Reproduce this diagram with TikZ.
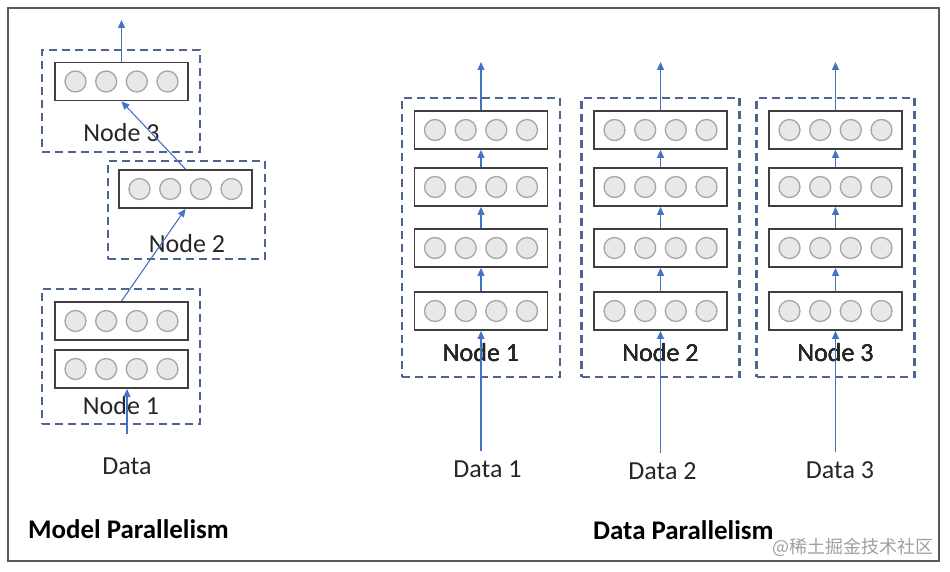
\documentclass[tikz,border=0pt]{standalone}
\usepackage{fontspec}
\setmainfont{Carlito}
\newfontfamily\cjkfont{Noto Sans CJK SC}
\usepackage{tikz}
\usetikzlibrary{arrows.meta}
\pgfdeclarelayer{nodelayer}
\pgfdeclarelayer{edgelayer}
\pgfsetlayers{nodelayer,edgelayer,main}
\definecolor{groupblue}{HTML}{4F6491}
\definecolor{flowblue}{HTML}{4472C4}
\definecolor{layergray}{HTML}{404040}
\definecolor{unitgray}{HTML}{A6A6A6}
\definecolor{unitfill}{HTML}{E8E8E8}
\definecolor{textgray}{HTML}{262626}
\definecolor{framegray}{HTML}{5A5A5A}
\definecolor{markgray}{HTML}{A0A0A0}
\tikzset{
    none/.style = {inner sep=0pt},
    tag/.style = {inner sep=0pt, anchor=base, text=textgray, font=\fontsize{26}{30}\selectfont},
    heading/.style = {inner sep=0pt, anchor=base west, text=black, font=\fontsize{26.9}{32}\selectfont\bfseries},
    layer/.style = {draw=layergray, line width=1.8pt, minimum width=133pt, minimum height=38pt, inner sep=0pt},
    unit/.style = {circle, draw=unitgray, fill=unitfill, line width=1.3pt, minimum size=21pt, inner sep=0pt},
    group/.style = {draw=groupblue, line width=2.2pt, dash pattern=on 8pt off 5pt},
    flow/.style = {draw=flowblue, line width=1.1pt, -{Triangle[length=8pt,width=7pt]}},
    frame/.style = {draw=framegray, line width=1.5pt}
}
% one layer: a box with four units
\newcommand{\layerbox}[3]{%
    \node [layer] (#1) at (#2, #3) {};
    \foreach \dx [count=\i] in {-46,-15.3,15.3,46}
        \node [unit] (#1-\i) at ([xshift=\dx pt]#1.center) {};
}

\begin{document}
\begin{tikzpicture}[x=1pt, y=-1pt]
    \useasboundingbox (0, 0) rectangle (950, 572);
    \begin{pgfonlayer}{nodelayer}
        \draw [frame] (8, 8) rectangle (939, 561);
        % model parallelism
        \node [group, minimum width=158pt, minimum height=102pt] (g3) at (121, 101) {};
        \node [group, minimum width=157pt, minimum height=98pt] (g2) at (186.5, 210) {};
        \node [group, minimum width=158pt, minimum height=135pt] (g1) at (121, 356.5) {};
        \layerbox{m3}{121.5}{81.5}
        \layerbox{m2}{185.5}{189}
        \layerbox{m1b}{121.5}{321}
        \layerbox{m1a}{121.5}{369}
        \node [tag] (n3) at (121.5, 142) {Node 3};
        \node [tag] (n2) at (187, 252) {Node 2};
        \node [tag] (n1) at (121, 414) {Node 1};
        \node [tag] (data) at (127, 474) {Data};
        \coordinate (mout) at (121.5, 20);
        % data parallelism
        \foreach \c/\x/\tx/\ty in {1/481/487.5/477, 2/660.5/662.5/479, 3/835.5/840/478} {
            \node [group, minimum width=158pt, minimum height=279pt] (h\c) at (\x, 237.5) {};
            \foreach \r/\y in {a/311, b/248, c/187, d/130}
                \layerbox{d\c-\r}{\x}{\y}
            \node [tag] (k\c) at (\x, 361) {Node \c};
            \node [tag] (dt\c) at (\tx, \ty) {Data \c};
            \coordinate (dout\c) at (\x, 62);
        }
        \node [heading] (mtitle) at (28, 538) {Model Parallelism};
        \node [heading] (dtitle) at (593, 539) {Data Parallelism};
        \node [none, anchor=base west, text=markgray, font=\cjkfont\fontsize{18}{22}\selectfont] (mark) at (772, 553) {@稀土掘金技术社区};
    \end{pgfonlayer}
    \begin{pgfonlayer}{edgelayer}
        \draw [flow] ([yshift=23pt]data.north -| data) -- (data |- m1a.south);
        \draw [flow] (m1b.north) -- (m2.south);
        \draw [flow] (m2.north) -- (m3.south);
        \draw [flow] (m3.north) -- (mout);
        \foreach \c in {1,2,3} {
            \draw [flow] ([yshift=9pt]dt\c.north -| d\c-a) -- (d\c-a.south);
            \draw [flow] (d\c-a.north) -- (d\c-b.south);
            \draw [flow] (d\c-b.north) -- (d\c-c.south);
            \draw [flow] (d\c-c.north) -- (d\c-d.south);
            \draw [flow] (d\c-d.north) -- (dout\c);
        }
    \end{pgfonlayer}
\end{tikzpicture}
\end{document}
